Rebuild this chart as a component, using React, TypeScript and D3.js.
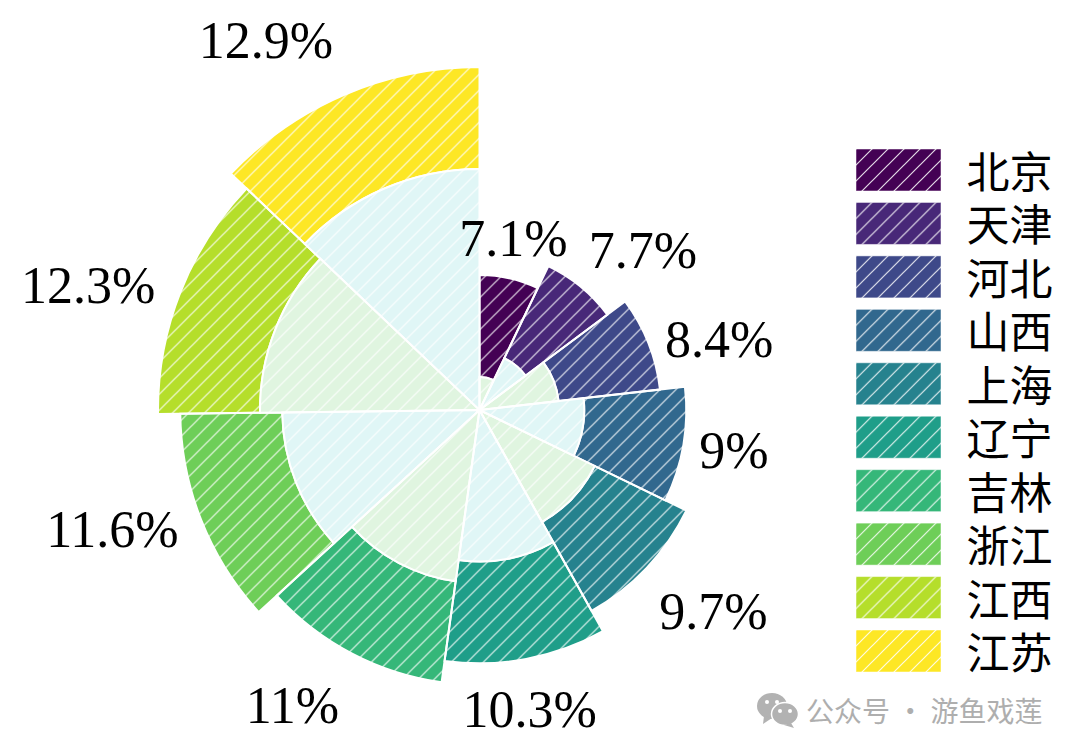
import React, { useEffect, useRef } from 'react';
import * as d3 from 'd3';

const provinces = ['北京', '天津', '河北', '山西', '上海', '辽宁', '吉林', '浙江', '江西', '江苏'];
const shares = [7.1, 7.7, 8.4, 9, 9.7, 10.3, 11, 11.6, 12.3, 12.9];
// radial length of each petal, a bit off the rounded labels
const depths = [7.1, 7.78, 8.4, 9.1, 9.75, 10.4, 11, 11.68, 12.3, 12.9];
const innerFills = ['#e0f5e0', '#e0f6f6'];

// hand placement of the percent labels around the rose, in polar terms
const labelGap = [40, 69, 68, 51, 79, 50, 75, 87, 89, 84];
const labelTurn = [-1.6, 6.3, 5.3, -0.6, -2.6, 1.1, 4.6, 3.5, -3.8, -6.8];

const App: React.FC = () => {
    const chartRef = useRef<SVGSVGElement>(null);

    useEffect(() => {
        const svg = d3.select(chartRef.current);
        svg.selectAll('*').remove();

        const cx = 479.5;
        const cy = 410;
        const bandWidth = 102;

        const defs = svg.append('defs');
        const makeHatch = (id: string, step: number) => {
            defs.append('pattern')
                .attr('id', id)
                .attr('patternUnits', 'userSpaceOnUse')
                .attr('width', step)
                .attr('height', step)
                .append('path')
                .attr('d', `M-2,${step + 2}L${step + 2},-2M-2,2L2,-2M${step - 2},${step + 2}L${step + 2},${step - 2}`)
                .attr('stroke', '#fff')
                .attr('stroke-width', 1.2)
                .attr('stroke-opacity', 0.85);
        };
        makeHatch('hatch', 16);

        const color = (i: number) => d3.interpolateViridis(i / (provinces.length - 1));
        const radius = d3.scaleLinear().domain([7.1, 12.9]).range([33, 241]);

        const pie = d3.pie<number>().sort(null).value(d => d);
        const slices = pie(shares);

        const arc = d3.arc<any>();
        const rose = svg.append('g').attr('transform', `translate(${cx},${cy})`);

        const inner = (d: d3.PieArcDatum<number>, i: number) =>
            arc({ startAngle: d.startAngle, endAngle: d.endAngle, innerRadius: 0, outerRadius: radius(depths[i]) });
        const outer = (d: d3.PieArcDatum<number>, i: number) =>
            arc({ startAngle: d.startAngle, endAngle: d.endAngle, innerRadius: radius(depths[i]), outerRadius: radius(depths[i]) + bandWidth });

        const drawLayer = (shape: (d: d3.PieArcDatum<number>, i: number) => string | null, fill: (i: number) => string) => {
            rose.append('g').selectAll('path')
                .data(slices)
                .enter().append('path')
                .attr('d', (d, i) => shape(d, i))
                .attr('fill', (d, i) => fill(i));
            rose.append('g').selectAll('path')
                .data(slices)
                .enter().append('path')
                .attr('d', (d, i) => shape(d, i))
                .attr('fill', 'url(#hatch)')
                .attr('stroke', '#fff')
                .attr('stroke-width', 2);
        };
        drawLayer(outer, color);
        drawLayer(inner, i => innerFills[i % 2]);

        rose.append('g').selectAll('text')
            .data(slices)
            .enter().append('text')
            .attr('transform', (d, i) => {
                const mid = (d.startAngle + d.endAngle) / 2 + (labelTurn[i] * Math.PI) / 180;
                const r = radius(depths[i]) + bandWidth + labelGap[i];
                return `translate(${r * Math.sin(mid)},${-r * Math.cos(mid)})`;
            })
            .attr('text-anchor', 'middle')
            .attr('dominant-baseline', 'central')
            .attr('font-family', '"Liberation Serif", serif')
            .attr('font-size', 52)
            .attr('fill', '#000')
            .text(d => `${d.value}%`);

        const legendY = d3.scalePoint<string>().domain(provinces).range([149, 630]);
        const legend = svg.append('g').selectAll('g')
            .data(provinces)
            .enter().append('g')
            .attr('transform', d => `translate(856,${legendY(d)})`);
        legend.append('rect')
            .attr('width', 85)
            .attr('height', 42)
            .attr('fill', (d, i) => color(i));
        legend.append('rect')
            .attr('width', 85)
            .attr('height', 42)
            .attr('fill', 'url(#hatch)')
            .attr('stroke', '#fff')
            .attr('stroke-opacity', 0.5);
        legend.append('text')
            .attr('x', 110.5)
            .attr('y', 20)
            .attr('dominant-baseline', 'central')
            .attr('font-family', '"Noto Sans CJK SC", sans-serif')
            .attr('font-size', 43)
            .attr('fill', '#000')
            .text(d => d);

        // watermark
        const mark = svg.append('g').attr('fill', '#b2b2b2');
        mark.append('ellipse').attr('cx', 772).attr('cy', 706).attr('rx', 15).attr('ry', 13);
        mark.append('path').attr('d', 'M764,716L763,724L772,718Z');
        mark.append('ellipse').attr('cx', 785).attr('cy', 714).attr('rx', 13.5).attr('ry', 11.5).attr('stroke', '#fff').attr('stroke-width', 1.5);
        mark.append('path').attr('d', 'M791,723L794,728L784,725Z');
        const eyes = [[767, 702], [777, 702], [780, 711], [790, 711]];
        mark.selectAll('circle')
            .data(eyes)
            .enter().append('circle')
            .attr('cx', d => d[0])
            .attr('cy', d => d[1])
            .attr('r', 2)
            .attr('fill', '#fff');
        svg.append('text')
            .attr('x', 806)
            .attr('y', 710)
            .attr('dominant-baseline', 'central')
            .attr('font-family', '"Noto Sans CJK SC", sans-serif')
            .attr('font-size', 28)
            .attr('fill', '#aeaeae')
            .text('公众号 · 游鱼戏莲');
    }, []);

    return (
        <svg
            ref={chartRef}
            width="1080"
            height="754"
            style={{ position: 'absolute', left: 0, top: 0, background: '#fff' }}
        ></svg>
    );
};

export default App;
